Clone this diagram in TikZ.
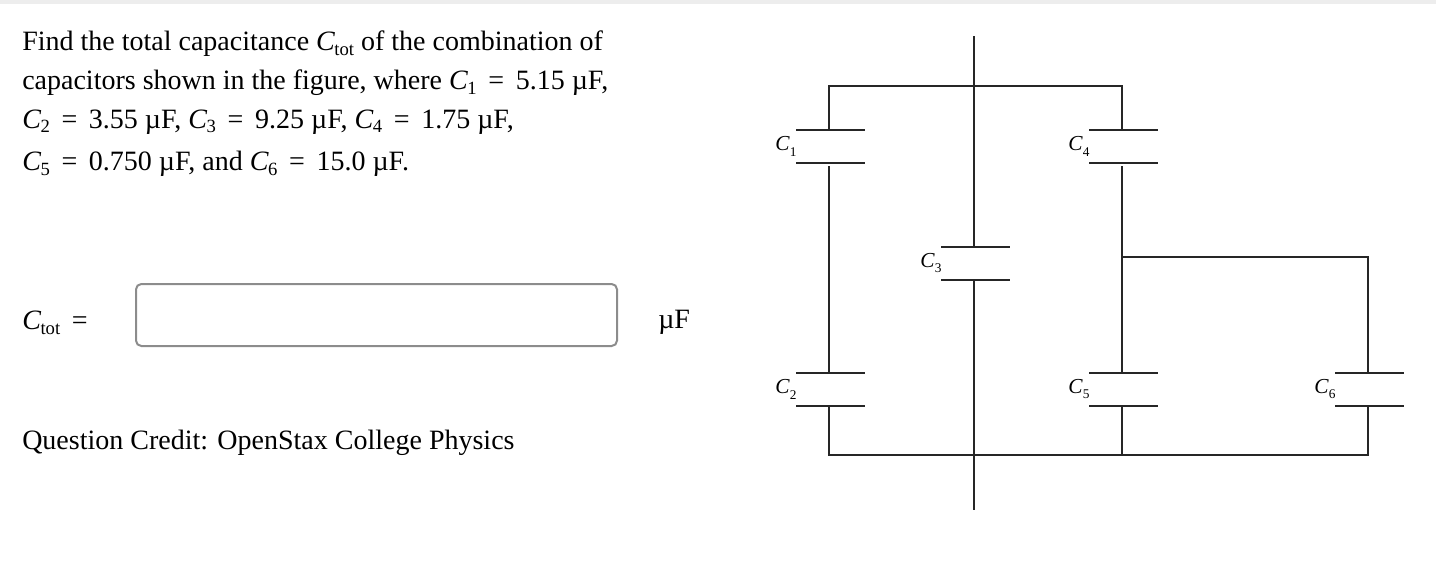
\documentclass[tikz,border=0pt]{standalone}
\usepackage{fontspec}
\setmainfont{Liberation Serif}
\newcommand{\Cs}[1]{\textit{C}\kern-0.5pt\raisebox{-0.35ex}{\fontsize{14}{14}\selectfont #1}}
\newcommand{\eqs}{\ \,=\ \,}
\begin{document}
\begin{tikzpicture}[x=0.75pt,y=-0.75pt,
  wire/.style={line width=1.2pt,black!85},
  plate/.style={line width=1.4pt,black!85},
  txt/.style={anchor=west,inner sep=0pt,font=\fontsize{21}{22}\selectfont},
  clab/.style={inner sep=0pt,font=\fontsize{16}{16}\selectfont}]
\useasboundingbox (0,0) rectangle (1436,578);
\fill[black!7] (0,0) rectangle (1436,4);
\node[txt] (l1) at (22,44) {Find the total capacitance \Cs{tot} of the combination of};
\node[txt] (l2) at (22,83) {capacitors shown in the figure, where \Cs{1}\eqs5.15 µF,};
\node[txt] (l3) at (22,122) {\Cs{2}\eqs3.55 µF, \Cs{3}\eqs9.25 µF, \Cs{4}\eqs1.75 µF,};
\node[txt] (l4) at (22,164) {\Cs{5}\eqs0.750 µF, and \Cs{6}\eqs15.0 µF.};
\node[txt] (ct) at (22,323) {\Cs{tot}\eqs};
\node[draw=black!45,line width=1.5pt,rounded corners=4pt,minimum width=481*0.75pt,minimum height=62*0.75pt,inner sep=0pt] (box) at (376.5,315) {};
\node[txt] (mu) at (658,322) {µF};
\node[txt] (cr) at (22,443) {Question Credit: OpenStax College Physics};
% circuit
\coordinate (mt) at (974,36); \coordinate (mb) at (974,510);
\coordinate (tl) at (829,86); \coordinate (tr) at (1122,86);
\coordinate (bl) at (829,455); \coordinate (bm) at (1122,455); \coordinate (br) at (1368,455);
\coordinate (jn) at (1122,257); \coordinate (jr) at (1368,257);
\draw[wire] (mt) -- (974,247);
\draw[wire] (974,280) -- (mb);
\draw[wire] (829,130) -- (tl) -- (tr) -- (1122,130);
\draw[wire] (829,166) -- (829,373);
\draw[wire] (829,406) -- (bl) -- (br) -- (1368,406);
\draw[wire] (1122,166) -- (1122,373);
\draw[wire] (1122,406) -- (bm);
\draw[wire] (jn) -- (jr) -- (1368,373);
\foreach \x/\y/\n/\s in {829/130/c1/1,829/373/c2/2,974/247/c3/3,1122/130/c4/4,1122/373/c5/5,1368/373/c6/6}{
  \draw[plate] (\x-33,\y) -- (\x+36,\y);
  \draw[plate] (\x-33,\y+33) -- (\x+36,\y+33);
  \node[clab] (\n) at (\x-43,\y+16) {\textit{C}\raisebox{-0.6ex}{\fontsize{10}{10}\selectfont\s}};
}
\end{tikzpicture}
\end{document}
